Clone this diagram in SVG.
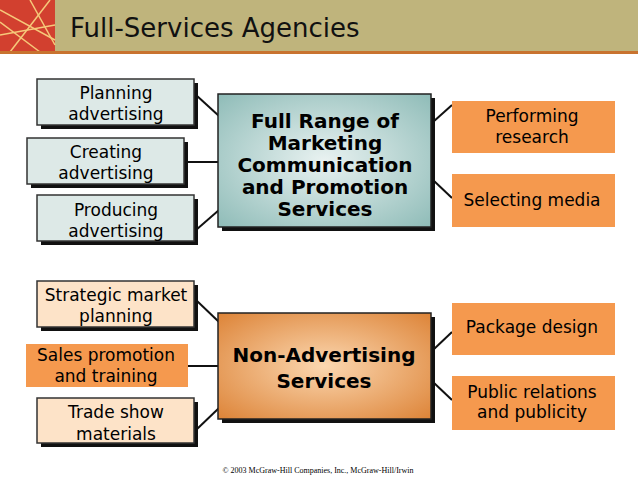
<svg xmlns="http://www.w3.org/2000/svg" width="638" height="478" viewBox="0 0 638 478">
<style>
text{font-family:"DejaVu Sans",Verdana,sans-serif;text-anchor:middle;fill:#000}
.t{font-size:17px}
.b{font-size:20px;font-weight:bold}
.lt{fill:#dde9e7;stroke:#333;stroke-width:1.5}
.pe{fill:#fde3c8;stroke:#333;stroke-width:1.5}
.or{fill:#f5994e}
.sh{fill:#111}
.con line{stroke:#111;stroke-width:2}
</style>
<defs>
<radialGradient id="gt" cx="0.5" cy="0.5" r="0.7"><stop offset="0" stop-color="#e9f2f1"/><stop offset="1" stop-color="#8fbcb8"/></radialGradient>
<radialGradient id="go" cx="0.5" cy="0.5" r="0.7"><stop offset="0" stop-color="#fbd7b0"/><stop offset="1" stop-color="#dd8438"/></radialGradient>
</defs>
<rect width="638" height="478" fill="#fff"/>
<g id="header">
<rect x="0" y="0" width="638" height="52" fill="#bfb47c"/>
<rect x="0" y="0" width="55" height="52" fill="#d2402f"/>
<g stroke="#f6c97a" stroke-width="1.5" fill="none">
<line x1="0" y1="10" x2="55" y2="40"/><line x1="10" y1="52" x2="50" y2="0"/><line x1="0" y1="35" x2="55" y2="25"/><line x1="30" y1="0" x2="55" y2="45"/><line x1="0" y1="22" x2="40" y2="52"/>
</g>
<rect x="0" y="51" width="638" height="3" fill="#c8732f"/>
<text x="70" y="37" style="font-size:26px;text-anchor:start;fill:#111">Full-Services Agencies</text>
</g>
<g class="con" id="connectors">
<line x1="196" y1="95" x2="219" y2="116"/>
<line x1="188" y1="162" x2="219" y2="162"/>
<line x1="196" y1="230" x2="219" y2="210"/>
<line x1="433" y1="122" x2="452" y2="105"/>
<line x1="433" y1="180" x2="452" y2="198"/>
<line x1="196" y1="300" x2="219" y2="322"/>
<line x1="188" y1="366" x2="219" y2="366"/>
<line x1="196" y1="430" x2="219" y2="408"/>
<line x1="433" y1="350" x2="452" y2="332"/>
<line x1="433" y1="382" x2="452" y2="400"/>
</g>
<g id="planning"><rect class="sh" x="41" y="83" width="157" height="46"/><rect class="lt" x="37" y="79" width="157" height="46"/><text class="t" x="116" y="99">Planning</text><text class="t" x="116" y="120">advertising</text></g>
<g id="creating"><rect class="sh" x="31" y="142" width="157" height="46"/><rect class="lt" x="27" y="138" width="157" height="46"/><text class="t" x="106" y="158">Creating</text><text class="t" x="106" y="179">advertising</text></g>
<g id="producing"><rect class="sh" x="41" y="199" width="157" height="46"/><rect class="lt" x="37" y="195" width="157" height="46"/><text class="t" x="116" y="216">Producing</text><text class="t" x="116" y="237">advertising</text></g>
<g id="fullrange"><rect class="sh" x="222" y="98" width="213" height="133"/><rect x="218" y="94" width="213" height="133" fill="url(#gt)" stroke="#222" stroke-width="1.5"/>
<text class="b" x="325" y="128">Full Range of</text><text class="b" x="325" y="150">Marketing</text><text class="b" x="325" y="172">Communication</text><text class="b" x="325" y="194">and Promotion</text><text class="b" x="325" y="216">Services</text></g>
<g id="performing"><rect class="or" x="452" y="101" width="163" height="52"/><text class="t" x="532" y="122">Performing</text><text class="t" x="532" y="143">research</text></g>
<g id="selecting"><rect class="or" x="452" y="174" width="163" height="53"/><text class="t" x="532" y="206">Selecting media</text></g>
<g id="strategic"><rect class="sh" x="41" y="285" width="157" height="46"/><rect class="pe" x="37" y="281" width="157" height="46"/><text class="t" x="116" y="301">Strategic market</text><text class="t" x="116" y="322">planning</text></g>
<g id="sales"><rect class="or" x="26" y="344" width="162" height="43"/><text class="t" x="106" y="361">Sales promotion</text><text class="t" x="106" y="382">and training</text></g>
<g id="trade"><rect class="sh" x="41" y="402" width="157" height="45"/><rect class="pe" x="37" y="398" width="157" height="45"/><text class="t" x="116" y="418">Trade show</text><text class="t" x="116" y="440">materials</text></g>
<g id="nonadv"><rect class="sh" x="222" y="317" width="213" height="106"/><rect x="218" y="313" width="213" height="106" fill="url(#go)" stroke="#222" stroke-width="1.5"/>
<text class="b" x="324" y="362">Non-Advertising</text><text class="b" x="324" y="388">Services</text></g>
<g id="package"><rect class="or" x="452" y="303" width="163" height="52"/><text class="t" x="532" y="333">Package design</text></g>
<g id="public"><rect class="or" x="452" y="376" width="163" height="54"/><text class="t" x="532" y="398">Public relations</text><text class="t" x="532" y="418">and publicity</text></g>
<text x="318" y="473" style="font-family:'Liberation Serif',serif;font-size:8px">© 2003 McGraw-Hill Companies, Inc., McGraw-Hill/Irwin</text>
</svg>
